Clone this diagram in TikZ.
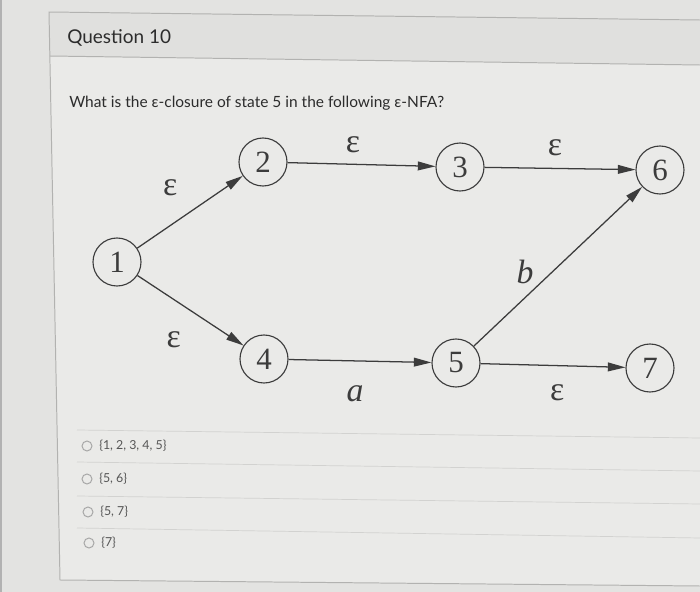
\documentclass[tikz,border=0pt]{standalone}
\usepackage{fontspec}
\setmainfont{Liberation Serif}
\newfontfamily\uifont{Lato}
\usetikzlibrary{arrows.meta}

\definecolor{pagebg}{HTML}{E3E3E1}
\definecolor{panelbg}{HTML}{EAEAE8}
\definecolor{headbg}{HTML}{E0E0DE}
\definecolor{bordergray}{HTML}{B2B2B0}
\definecolor{rulegray}{HTML}{D2D2D0}
\definecolor{inkgray}{HTML}{3C3C3C}
\definecolor{uitext}{HTML}{2C2C2C}
\definecolor{choicetext}{HTML}{555555}

\begin{document}
\begin{tikzpicture}[x=0.025cm, y=-0.025cm,
    state/.style={circle, draw=inkgray, line width=0.8pt, minimum size=1.2cm, inner sep=0pt,
        text=inkgray, font=\fontsize{22pt}{22pt}\selectfont},
    trans/.style={draw=inkgray, line width=0.9pt, -{Triangle[length=0.44cm, width=0.22cm]}},
    lbl/.style={text=inkgray, inner sep=0pt, font=\fontsize{24pt}{24pt}\selectfont},
    radio/.style={circle, draw=gray!70, line width=0.7pt, minimum size=0.25cm, inner sep=0pt},
    choice/.style={anchor=west, inner sep=0pt, text=choicetext, font=\uifont\fontsize{8.8pt}{8.8pt}\selectfont}]

    \useasboundingbox (0,0) rectangle (700,592);

    %% Quiz page
    \fill[pagebg] (0,0) rectangle (700,592);
    \fill[gray!60] (0,0) rectangle (2,592);
    \fill[panelbg] (49,12) -- (700,20) -- (700,586) -- (60,580) -- cycle;
    \fill[headbg] (49,12) -- (700,20) -- (700,65) -- (49.8,56) -- cycle;
    \draw[bordergray, line width=0.7pt] (700,20) -- (49,12) -- (60,580) -- (700,586);
    \draw[bordergray, line width=0.7pt] (49.8,56) -- (700,65);

    % Header and question
    \node[anchor=base west, inner sep=0pt, text=uitext, font=\uifont\fontsize{13.5pt}{13.5pt}\selectfont] (title) at (67,43) {Question 10};
    \node[anchor=base west, inner sep=0pt, text=uitext, font=\uifont\fontsize{11pt}{11pt}\selectfont] (ask) at (69,107)
        {What is the ε-closure of state 5 in the following ε-NFA?};

    %% epsilon-NFA
    \node[state] (s1) at (117,262) {1};
    \node[state] (s2) at (263,162) {2};
    \node[state] (s3) at (460,167) {3};
    \node[state] (s6) at (660,170) {6};
    \node[state] (s4) at (264,359) {4};
    \node[state] (s5) at (456,363) {5};
    \node[state] (s7) at (650,368) {7};

    % Transitions
    \draw[trans] (s1) -- (s2) node[midway, lbl, xshift=-14pt, yshift=17pt] (e12) {ε};
    \draw[trans] (s1) -- (s4) node[midway, lbl, xshift=-12pt, yshift=-21pt] (e14) {ε};
    \draw[trans] (s2) -- (s3) node[midway, lbl, xshift=-6pt, yshift=14pt] (e23) {ε};
    \draw[trans] (s3) -- (s6) node[midway, lbl, xshift=-3.5pt, yshift=14.5pt] (e36) {ε};
    \draw[trans] (s4) -- (s5) node[midway, lbl, xshift=-3.5pt, yshift=-23pt] (e45) {\itshape a};
    \draw[trans] (s5) -- (s6) node[midway, lbl, xshift=-23.5pt, yshift=-4pt] (e56) {\itshape b};
    \draw[trans] (s5) -- (s7) node[midway, lbl, xshift=3pt, yshift=-19.5pt] (e57) {ε};

    %% Answer choices
    \draw[rulegray, line width=0.5pt] (77,430) -- (700,438);
    \draw[rulegray, line width=0.5pt] (77,462) -- (700,471);
    \draw[rulegray, line width=0.5pt] (77,496) -- (700,504);
    \draw[rulegray, line width=0.5pt] (77,528) -- (700,538);

    \node[radio] (r1) at (87,446) {};
    \node[choice] (c1) at (99,446) {\{1, 2, 3, 4, 5\}};
    \node[radio] (r2) at (87,479) {};
    \node[choice] (c2) at (99,479) {\{5, 6\}};
    \node[radio] (r3) at (88,512) {};
    \node[choice] (c3) at (100,512) {\{5, 7\}};
    \node[radio] (r4) at (89,543) {};
    \node[choice] (c4) at (101,543) {\{7\}};

\end{tikzpicture}
\end{document}
